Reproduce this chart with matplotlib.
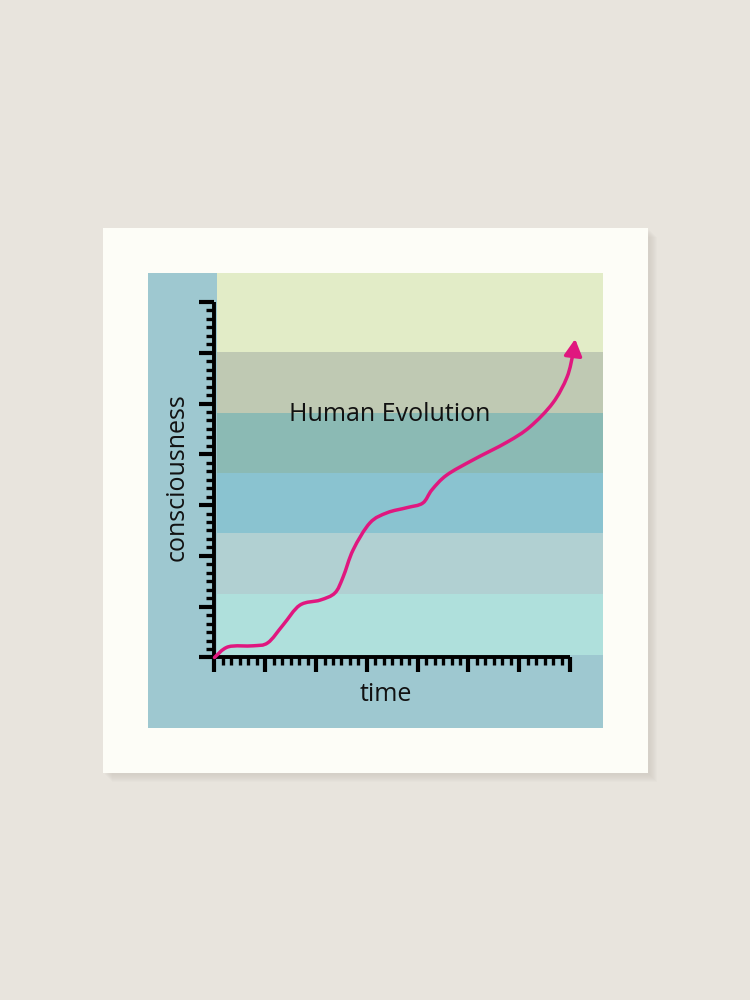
import numpy as np
import matplotlib.pyplot as plt
from matplotlib.path import Path
from matplotlib.patches import PathPatch, Rectangle
from matplotlib.ticker import FixedLocator, NullFormatter

# curve (time, consciousness)
t = [0.0, 0.27, 0.76, 1.05, 1.35, 1.68, 2.08, 2.37, 2.53, 2.73, 3.06, 3.40,
     3.79, 4.10, 4.28, 4.57, 5.09, 5.76, 6.21, 6.66, 6.94, 7.06]
c = [0.0, 0.21, 0.23, 0.29, 0.64, 1.03, 1.13, 1.27, 1.58, 2.12, 2.65, 2.85,
     2.95, 3.04, 3.30, 3.59, 3.89, 4.24, 4.54, 5.01, 5.52, 5.99]
tip = (7.10, 6.27)

band_edges = [7.569, 6.01, 4.81, 3.63, 2.45, 1.25, 0.05]
band_colors = ["#e2ecc7", "#bfc9b3", "#8bbab4", "#8ac3d0", "#b1d0d2", "#afe0dc"]

wall = "#e8e4dd"
paper = "#fdfdf7"
panel = "#9ec8d0"
pink = "#e0177f"

fig = plt.figure(figsize=(7.5, 10), dpi=100)
fig.patch.set_facecolor(wall)

# mockup: paper + soft shadow, in pixel units
bg = fig.add_axes([0, 0, 1, 1])
bg.set_xlim(0, 750)
bg.set_ylim(1000, 0)
bg.axis("off")
for k in range(8):
    bg.add_patch(Rectangle((103 + 2 + k, 228 + 2 + k), 545, 545,
                           color="#b8b2a8", alpha=0.05, lw=0))
bg.add_patch(Rectangle((103, 228), 545, 545, color=paper, lw=0))

# chart panel
ax = fig.add_axes([148/750, 1 - 728/1000, 455/750, 455/1000])
ax.set_facecolor(panel)

x_start = (217 - 148) / 455
for i, col in enumerate(band_colors):
    ax.axhspan(band_edges[i + 1], band_edges[i], xmin=x_start, xmax=1,
               color=col, lw=0, zorder=0)

for s in ["top", "right"]:
    ax.spines[s].set_visible(False)
for s in ["left", "bottom"]:
    ax.spines[s].set_position(("data", 0))
    ax.spines[s].set_bounds(0, 7)
    ax.spines[s].set_linewidth(2.8)
    ax.spines[s].set_capstyle("butt")

major = list(range(8))
minor = [k / 6 for k in range(43) if k % 6]
for a in (ax.xaxis, ax.yaxis):
    a.set_major_locator(FixedLocator(major))
    a.set_minor_locator(FixedLocator(minor))
    a.set_major_formatter(NullFormatter())
ax.tick_params(which="major", direction="out", length=11, width=3.0, color="black")
ax.tick_params(which="minor", direction="out", length=5.5, width=2.4, color="black")
ax.set_xlim(-1.309, 7.648)
ax.set_ylim(-1.388, 7.569)

# smooth curve through the read points (Catmull-Rom -> cubic Bezier)
P = np.column_stack([t, c])
verts = [P[0]]
codes = [Path.MOVETO]
n = len(P)
for i in range(n - 1):
    p0 = P[i - 1] if i > 0 else P[i]
    p1 = P[i]
    p2 = P[i + 1]
    p3 = P[i + 2] if i + 2 < n else P[i + 1]
    verts += [p1 + (p2 - p0) / 6, p2 - (p3 - p1) / 6, p2]
    codes += [Path.CURVE4] * 3
ax.add_patch(PathPatch(Path(verts, codes), fill=False, edgecolor=pink,
                       lw=2.5, capstyle="round", joinstyle="round", zorder=3))
ax.annotate("", xy=tip, xytext=(t[-1], c[-1] - 0.05),
            arrowprops=dict(arrowstyle="-|>,head_length=0.5,head_width=0.27",
                            mutation_scale=20, color=pink, lw=2.5,
                            shrinkA=0, shrinkB=0), zorder=4)

font = "Open Sans"
ax.text(3.45, 4.66, "Human Evolution", ha="center", va="baseline",
        fontsize=18, family=font, color="#111111")
ax.text(3.37, -0.85, "time", ha="center", va="baseline",
        fontsize=18, family=font, color="#111111")
ax.text(-0.61, 3.56, "consciousness", ha="center", va="baseline",
        rotation=90, rotation_mode="anchor",
        fontsize=18, family=font, color="#111111")

fig.savefig("out.png", dpi=100, facecolor=wall)
